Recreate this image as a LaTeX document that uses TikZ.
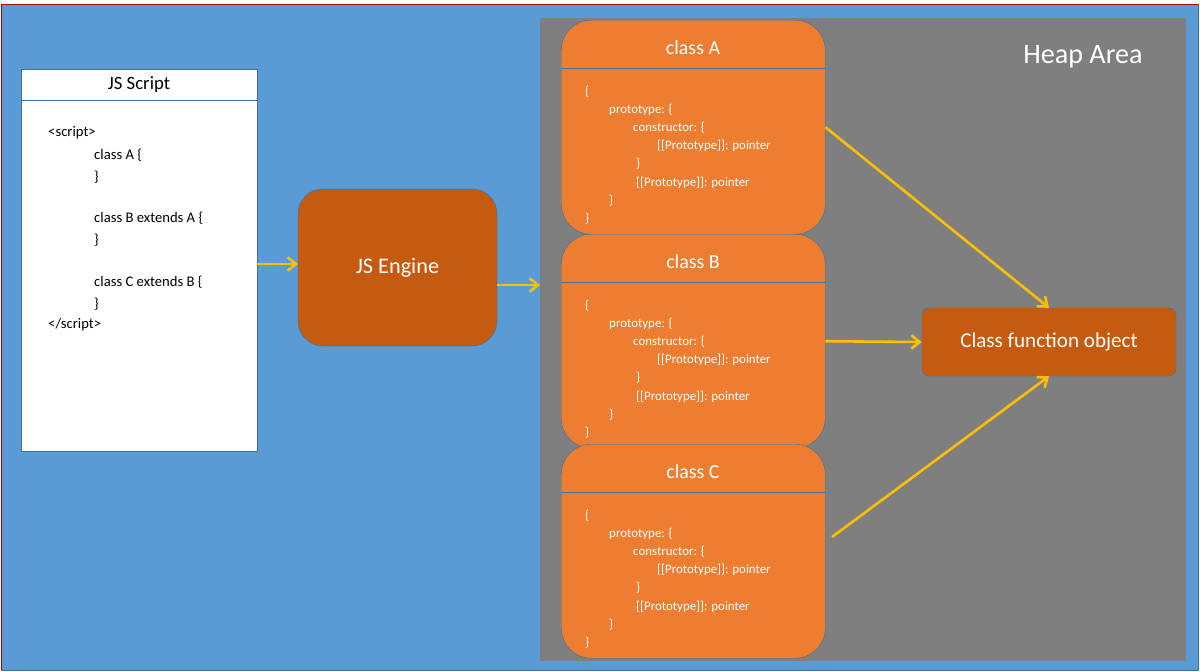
\documentclass[tikz,border=0pt]{standalone}
\usepackage{fontspec}
\setmainfont{Carlito}
\usetikzlibrary{positioning, arrows.meta}
\definecolor{bgblue}{HTML}{5B9BD5}
\definecolor{heapgray}{HTML}{7F7F7F}
\definecolor{boxorange}{HTML}{ED7D31}
\definecolor{darkorange}{HTML}{C55A11}
\definecolor{lineblue}{HTML}{41719C}
\definecolor{arrowyellow}{HTML}{FFC000}
\tikzset{
  classbox/.style={draw=lineblue, fill=boxorange, rounded corners=30*0.85pt, minimum width=264*0.03cm, minimum height=214*0.03cm, anchor=north west, inner sep=0pt},
  codeline/.style={anchor=west, text=white, font=\fontsize{11}{13}\selectfont, inner sep=0pt},
  scriptline/.style={anchor=west, font=\fontsize{12.5}{15}\selectfont, inner sep=0pt},
  flow/.style={draw=arrowyellow, line width=2.2pt, -{Straight Barb[length=2.5mm, width=4mm]}},
}
\begin{document}
\begin{tikzpicture}[x=0.03cm, y=-0.03cm]
    \useasboundingbox (0,0) rectangle (1200,672);
    % background panels
    \fill[bgblue] (1,4) rectangle (1198,670);
    \draw[red!70!black, line width=0.8pt] (1,670) -- (1,4) -- (1198,4);
    \draw[lineblue, line width=0.6pt] (1198,4) -- (1198,670) -- (1,670);
    \node[fill=heapgray, minimum width=646*0.03cm, minimum height=643*0.03cm, anchor=north west, inner sep=0pt]
    (Heap) at (540,18) {};
    \node[text=white, font=\fontsize{24}{28}\selectfont] (heapLabel) at (1083,57) {Heap Area};

    % JS Script box
    \node[draw=lineblue, fill=white, minimum width=236*0.03cm, minimum height=382*0.03cm, anchor=north west, inner sep=0pt]
    (Script) at (21,69) {};
    \draw[lineblue] (21,100) -- (257,100);
    \node[font=\fontsize{16}{18}\selectfont] (scriptTitle) at (139,85) {JS Script};
    \node[scriptline] (s1) at (48,133) {<script>};
    \node[scriptline] (s2) at (94,155) {class A \{};
    \node[scriptline] (s3) at (94,177) {\}};
    \node[scriptline] (s4) at (94,218) {class B extends A \{};
    \node[scriptline] (s5) at (94,240) {\}};
    \node[scriptline] (s6) at (94,282) {class C extends B \{};
    \node[scriptline] (s7) at (94,304) {\}};
    \node[scriptline] (s8) at (48,325) {</script>};

    % JS Engine
    \node[draw=lineblue, fill=darkorange, rounded corners=25*0.85pt, minimum width=199*0.03cm, minimum height=157*0.03cm, text=white, font=\fontsize{19}{22}\selectfont]
    (Engine) at (397.5,267.5) {JS Engine};

    % class boxes
    \foreach \name/\top in {A/20, B/234, C/444} {
      \node[classbox] (class\name) at (561,\top) {};
      \draw[lineblue] (561,\top+48) -- (825,\top+48);
      \node[text=white, font=\fontsize{17}{20}\selectfont] (title\name) at (693,\top+28) {class \name};
      \node[codeline] at (585,\top+72) {\{};
      \node[codeline] at (609,\top+90) {prototype: \{};
      \node[codeline] at (633,\top+108) {constructor: \{};
      \node[codeline] at (657,\top+126) {[[Prototype]]: pointer};
      \node[codeline] at (636,\top+144) {\}};
      \node[codeline] at (636,\top+163) {[[Prototype]]: pointer};
      \node[codeline] at (609,\top+181) {\}};
      \node[codeline] at (585,\top+199) {\}};
    }

    % class function object
    \node[draw=lineblue, fill=darkorange, rounded corners=6pt, minimum width=254*0.03cm, minimum height=68*0.03cm, text=white, font=\fontsize{18}{21}\selectfont]
    (ClassFn) at (1049,342) {Class function object};

    % arrows
    \coordinate (scriptOut) at (257,264);
    \coordinate (engineIn) at (298,264);
    \coordinate (engineOut) at (497,285);
    \coordinate (heapIn) at (540,285);
    \coordinate (cOut) at (832,537);
    \draw[flow] (scriptOut) -- (engineIn);
    \draw[flow] (engineOut) -- (heapIn);
    \draw[flow] (classA.east) -- (ClassFn.north);
    \draw[flow] (classB.east) -- (ClassFn.west);
    \draw[flow] (cOut) -- (ClassFn.south);
\end{tikzpicture}
\end{document}
